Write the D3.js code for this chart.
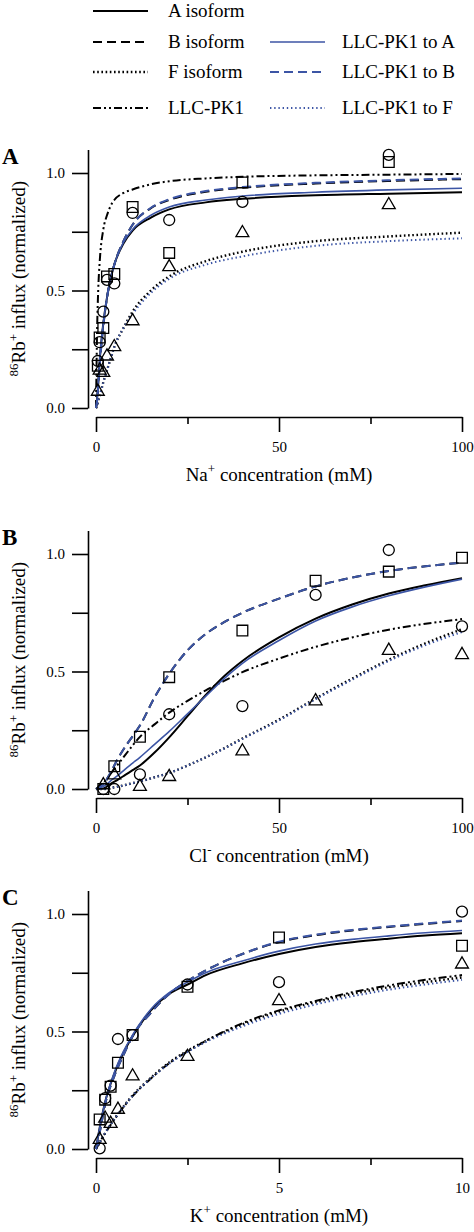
<!DOCTYPE html>
<html>
<head>
<meta charset="utf-8">
<script src="https://cdn.jsdelivr.net/npm/d3@7"></script>
<style>
  body { margin: 0; background: #fff; }
  svg { display: block; font-family: "Liberation Serif", "Times New Roman", serif; }
</style>
</head>
<body>
<svg id="chart" width="474" height="1232"></svg>
<script>
// ---- panel A: Na+ ----
var naX = [0.5, 1, 2, 3, 5, 10, 20, 40, 80];
var naCircles = [0.20, 0.28, 0.41, 0.545, 0.53, 0.83, 0.80, 0.877, 1.077];
var naSquares = [0.18, 0.30, 0.34, 0.56, 0.57, 0.855, 0.66, 0.96, 1.047];
var naTriangles = [0.07, 0.16, 0.15, 0.22, 0.26, 0.37, 0.60, 0.745, 0.864];

var naFitX =   [0, 0.3, 0.6, 1, 2, 3, 4, 5, 7.5, 10, 15, 20, 30, 40, 60, 80, 100];
var naFitA =   [0, 0.04, 0.10, 0.20, 0.36, 0.47, 0.55, 0.61, 0.70, 0.755, 0.81, 0.845, 0.875, 0.89, 0.905, 0.912, 0.918];
var naFitB =   [0, 0.03, 0.09, 0.18, 0.35, 0.47, 0.55, 0.61, 0.71, 0.78, 0.85, 0.885, 0.92, 0.937, 0.955, 0.966, 0.974];
var naFitF =   [0, 0.01, 0.03, 0.05, 0.11, 0.16, 0.21, 0.26, 0.34, 0.41, 0.50, 0.56, 0.625, 0.665, 0.71, 0.73, 0.746];
var naFitLLC = [0, 0.33, 0.50, 0.62, 0.76, 0.82, 0.86, 0.885, 0.915, 0.93, 0.952, 0.965, 0.977, 0.984, 0.99, 0.993, 0.996];
var naFitToA = [0, 0.04, 0.10, 0.20, 0.36, 0.47, 0.55, 0.61, 0.705, 0.76, 0.82, 0.855, 0.885, 0.902, 0.918, 0.928, 0.935];
var naFitToB = [0, 0.03, 0.09, 0.18, 0.35, 0.47, 0.55, 0.61, 0.71, 0.78, 0.852, 0.888, 0.923, 0.94, 0.958, 0.969, 0.977];
var naFitToF = [0, 0.01, 0.03, 0.05, 0.11, 0.16, 0.21, 0.26, 0.34, 0.40, 0.49, 0.55, 0.61, 0.645, 0.69, 0.71, 0.722];

// ---- panel B: Cl- ----
var clX = [2, 5, 12, 20, 40, 60, 80, 100];
var clCircles = [0.0, 0.0, 0.062, 0.318, 0.353, 0.826, 1.017, 0.692];
var clSquares = [0.0, 0.097, 0.222, 0.476, 0.674, 0.886, 0.925, 0.984];
var clTriangles = [0.017, 0.059, 0.01, 0.052, 0.161, 0.374, 0.589, 0.571];

var clFitX =   [0, 2, 4, 6, 8, 10, 12, 16, 20, 25, 30, 35, 40, 50, 60, 70, 80, 90, 100];
var clFitA =   [0, 0.002, 0.022, 0.04, 0.06, 0.08, 0.10, 0.155, 0.22, 0.31, 0.40, 0.48, 0.545, 0.645, 0.725, 0.785, 0.832, 0.867, 0.897];
var clFitB =   [0, 0.02, 0.07, 0.13, 0.18, 0.225, 0.27, 0.39, 0.49, 0.59, 0.66, 0.71, 0.75, 0.81, 0.862, 0.90, 0.928, 0.948, 0.963];
var clFitF =   [0, 0, 0.005, 0.01, 0.017, 0.025, 0.032, 0.05, 0.068, 0.10, 0.135, 0.173, 0.215, 0.295, 0.385, 0.47, 0.55, 0.62, 0.68];
var clFitLLC = [0, 0.025, 0.065, 0.105, 0.145, 0.185, 0.222, 0.275, 0.325, 0.375, 0.42, 0.46, 0.497, 0.555, 0.605, 0.645, 0.678, 0.703, 0.723];
var clFitToA = [0, 0.01, 0.035, 0.058, 0.085, 0.11, 0.135, 0.19, 0.245, 0.32, 0.395, 0.47, 0.535, 0.632, 0.715, 0.775, 0.822, 0.86, 0.893];
var clFitToB = [0, 0.02, 0.07, 0.13, 0.18, 0.225, 0.27, 0.39, 0.49, 0.59, 0.66, 0.71, 0.75, 0.81, 0.862, 0.90, 0.928, 0.948, 0.963];
var clFitToF = [0, 0, 0.005, 0.01, 0.017, 0.025, 0.032, 0.05, 0.068, 0.10, 0.135, 0.172, 0.213, 0.292, 0.382, 0.465, 0.545, 0.612, 0.668];

// ---- panel C: K+ ----
var kX = [0.1, 0.25, 0.4, 0.6, 1, 2.5, 5, 10];
var kCircles = [0.003, 0.216, 0.27, 0.468, 0.485, 0.70, 0.71, 1.01];
var kSquares = [0.126, 0.21, 0.265, 0.367, 0.485, 0.69, 0.90, 0.865];
var kTriangles = [0.04, 0.13, 0.108, 0.168, 0.31, 0.393, 0.63, 0.786];

var kFitX =   [0, 0.1, 0.25, 0.5, 0.75, 1, 1.5, 2, 2.5, 3, 4, 5, 6, 7, 8, 9, 10];
var kFitA =   [0, 0.09, 0.2, 0.32, 0.41, 0.48, 0.59, 0.66, 0.70, 0.74, 0.79, 0.83, 0.86, 0.88, 0.895, 0.908, 0.918];
var kFitB =   [0, 0.07, 0.19, 0.31, 0.40, 0.48, 0.58, 0.66, 0.715, 0.76, 0.83, 0.88, 0.91, 0.93, 0.945, 0.958, 0.97];
var kFitF =   [0, 0.028, 0.068, 0.127, 0.18, 0.228, 0.303, 0.368, 0.418, 0.46, 0.53, 0.585, 0.625, 0.66, 0.688, 0.71, 0.73];
var kFitLLC = [0, 0.028, 0.067, 0.125, 0.178, 0.225, 0.30, 0.365, 0.415, 0.46, 0.535, 0.59, 0.63, 0.667, 0.696, 0.72, 0.74];
var kFitToA = [0, 0.09, 0.2, 0.325, 0.415, 0.485, 0.595, 0.665, 0.71, 0.75, 0.80, 0.842, 0.872, 0.892, 0.907, 0.92, 0.93];
var kFitToB = [0, 0.07, 0.19, 0.31, 0.40, 0.48, 0.58, 0.66, 0.715, 0.76, 0.83, 0.882, 0.912, 0.932, 0.947, 0.96, 0.972];
var kFitToF = [0, 0.028, 0.068, 0.127, 0.178, 0.226, 0.30, 0.363, 0.413, 0.455, 0.522, 0.575, 0.615, 0.65, 0.678, 0.70, 0.72];

// ---- axes / legend labels ----
var yTicks = [0, 0.25, 0.5, 0.75, 1.0];
var yLabelled = [0, 0.5, 1.0];
var concTicks = [0, 25, 50, 75, 100];
var kTicks = [0, 2.5, 5, 7.5, 10];
var legendNames = ['A isoform', 'B isoform', 'F isoform', 'LLC-PK1', 'LLC-PK1 to A', 'LLC-PK1 to B', 'LLC-PK1 to F'];

var BLUE = '#3c55a5';
var styles = [
  { color: '#000', width: 2,   dash: null },
  { color: '#000', width: 2,   dash: '9,5' },
  { color: '#000', width: 2.4, dash: '1.6,2.6' },
  { color: '#000', width: 2,   dash: '8,3,2,3,2,3' },
  { color: BLUE,   width: 1.6, dash: null },
  { color: BLUE,   width: 2,   dash: '9,5' },
  { color: BLUE,   width: 2,   dash: '1.4,2.8' }
];

var panels = [
  { letter: 'A', y0: 408, ion: 'Na', charge: '+', xMax: 100, ticks: concTicks, major: [0, 50, 100],
    x: naX, pts: [naCircles, naSquares, naTriangles], fitX: naFitX,
    fits: [naFitA, naFitB, naFitF, naFitLLC, naFitToA, naFitToB, naFitToF] },
  { letter: 'B', y0: 789, ion: 'Cl', charge: '-', xMax: 100, ticks: concTicks, major: [0, 50, 100],
    x: clX, pts: [clCircles, clSquares, clTriangles], fitX: clFitX,
    fits: [clFitA, clFitB, clFitF, clFitLLC, clFitToA, clFitToB, clFitToF] },
  { letter: 'C', y0: 1149, ion: 'K', charge: '+', xMax: 10, ticks: kTicks, major: [0, 5, 10],
    x: kX, pts: [kCircles, kSquares, kTriangles], fitX: kFitX,
    fits: [kFitA, kFitB, kFitF, kFitLLC, kFitToA, kFitToB, kFitToF] }
];

var svg = d3.select('#chart');
var SERIF = '"Liberation Serif", "Times New Roman", serif';
var symbols = [
  d3.symbol().type(d3.symbolCircle).size(95),
  d3.symbol().type(d3.symbolSquare).size(115),
  d3.symbol().type(d3.symbolTriangle).size(72)
];

var applyStyle = function (sel, s) {
  sel.attr('fill', 'none')
      .attr('stroke', s.color)
      .attr('stroke-width', s.width)
      .attr('stroke-dasharray', s.dash);
};

var drawPanel = function (p) {
  var x = d3.scaleLinear().domain([0, p.xMax]).range([96, 462]);
  var y = d3.scaleLinear().domain([0, 1.1]).range([p.y0, p.y0 - 1.1 * 235]);
  var g = svg.append('g').attr('class', 'panel');

  // y axis
  var yAxis = d3.axisLeft(y).tickValues(yTicks).tickSize(16).tickSizeOuter(0).tickPadding(7)
      .tickFormat(function (d) { return yLabelled.indexOf(d) >= 0 ? d3.format('.1f')(d) : ''; });
  var ya = g.append('g').attr('transform', 'translate(88,0)').call(yAxis);
  ya.attr('font-family', SERIF).attr('font-size', 15);
  ya.selectAll('.domain, .tick line').attr('stroke-width', 1.6);

  // x axis, sitting a little below the zero line
  var xAxis = d3.axisBottom(x).tickValues(p.ticks).tickSize(15).tickSizeOuter(0).tickPadding(9)
      .tickFormat(function (d) { return p.major.indexOf(d) >= 0 ? d : ''; });
  var xa = g.append('g').attr('transform', 'translate(0,' + (p.y0 + 9) + ')').call(xAxis);
  xa.attr('font-family', SERIF).attr('font-size', 15);
  xa.selectAll('.domain, .tick line').attr('stroke-width', 1.6);
  xa.selectAll('.tick line').filter(function (d) { return p.major.indexOf(d) < 0; }).attr('y2', 7);

  // fitted curves
  var line = d3.line()
      .x(function (d) { return x(d[0]); })
      .y(function (d) { return y(d[1]); })
      .curve(d3.curveMonotoneX);

  p.fits.forEach(function (ys, i) {
    var pts = p.fitX.map(function (v, j) { return [v, ys[j]]; });
    g.append('path').attr('d', line(pts)).call(applyStyle, styles[i]);
  });

  // data markers
  p.pts.forEach(function (vals, i) {
    g.selectAll('path.m' + i).data(vals).enter().append('path')
        .attr('class', 'm' + i)
        .attr('d', symbols[i])
        .attr('transform', function (d, j) { return 'translate(' + x(p.x[j]) + ',' + y(d) + ')'; })
        .attr('fill', 'none')
        .attr('stroke', '#000')
        .attr('stroke-width', 1.3);
  });

  // panel letter
  g.append('text').attr('x', 2).attr('y', p.y0 - 244)
      .attr('font-size', 23).attr('font-weight', 'bold').text(p.letter);

  // y title
  var yt = g.append('text')
      .attr('transform', 'translate(25,' + y(0.55) + ') rotate(-90)')
      .attr('text-anchor', 'middle').attr('font-size', 19);
  yt.append('tspan').attr('font-size', 13).attr('dy', -7).text('86');
  yt.append('tspan').attr('dy', 7).text('Rb');
  yt.append('tspan').attr('font-size', 13).attr('dy', -7).text('+');
  yt.append('tspan').attr('dy', 7).text('\u00a0influx (normalized)');

  // x title
  var xt = g.append('text').attr('x', 279).attr('y', p.y0 + 73)
      .attr('text-anchor', 'middle').attr('font-size', 19);
  xt.append('tspan').text(p.ion);
  xt.append('tspan').attr('font-size', 13).attr('dy', -8).text(p.charge);
  xt.append('tspan').attr('dy', 8).text('\u00a0concentration (mM)');
};

panels.forEach(drawPanel);

// legend
var legendPos = [
  { x: 93, y: 11 }, { x: 93, y: 42 }, { x: 93, y: 72 }, { x: 93, y: 108 },
  { x: 270, y: 42 }, { x: 270, y: 72 }, { x: 270, y: 108 }
];
var lg = svg.append('g').attr('class', 'legend');
legendNames.forEach(function (name, i) {
  var pos = legendPos[i];
  lg.append('line').attr('x1', pos.x).attr('x2', pos.x + 55)
      .attr('y1', pos.y).attr('y2', pos.y).call(applyStyle, styles[i]);
  lg.append('text').attr('x', pos.x + (i < 4 ? 75 : 72)).attr('y', pos.y + 6)
      .attr('font-size', 19).text(name);
});
</script>
</body>
</html>
